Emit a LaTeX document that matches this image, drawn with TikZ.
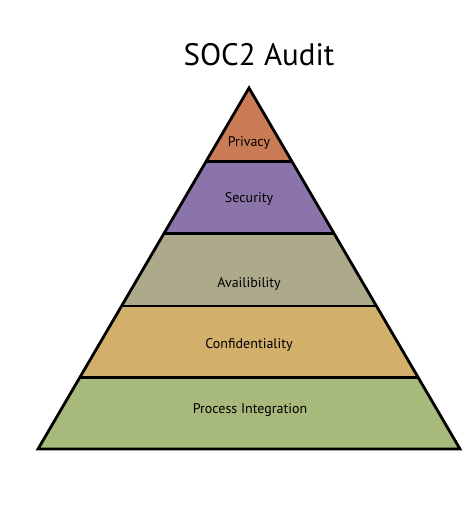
\documentclass[tikz,border=0pt]{standalone}
\usepackage{fontspec}
\setmainfont{PT Sans}
\usetikzlibrary{calc}
\definecolor{privacyc}{HTML}{C97B55}
\definecolor{securityc}{HTML}{8B74A9}
\definecolor{availc}{HTML}{ADA98B}
\definecolor{confidc}{HTML}{D2AF6B}
\definecolor{processc}{HTML}{A7B97B}
\begin{document}
\begin{tikzpicture}[
        x=1pt, y=-1pt,
        layer/.style={draw=black, line width=2.8pt, line join=miter},
        lbl/.style={font=\fontsize{14}{16}\selectfont, text=black},
        title/.style={font=\fontsize{31}{36}\selectfont},
    ]
    \useasboundingbox[fill=white] (0,0) rectangle (474,505);
    \node[title](head) at (259,55) {SOC2 Audit};
    \coordinate (apex) at (249,88);
    \coordinate (bl) at (38,449);
    \coordinate (br) at (460,449);
    % corners of the layers
    \foreach \i/\t in {1/0.204,2/0.402,3/0.604,4/0.803}{
        \coordinate (l\i) at ($(apex)!\t!(bl)$);
        \coordinate (r\i) at ($(apex)!\t!(br)$);
    }
    \fill[privacyc] (apex) -- (l1) -- (r1) -- cycle;
    \fill[securityc] (l1) -- (l2) -- (r2) -- (r1) -- cycle;
    \fill[availc] (l2) -- (l3) -- (r3) -- (r2) -- cycle;
    \fill[confidc] (l3) -- (l4) -- (r4) -- (r3) -- cycle;
    \fill[processc] (l4) -- (bl) -- (br) -- (r4) -- cycle;
    \draw[layer] (apex) -- (bl) -- (br) -- cycle;
    \foreach \i in {1,...,4}{
        \draw[layer] (l\i) -- (r\i);
    }
    \node[lbl](privacy) at (249,143) {Privacy};
    \node[lbl](security) at (249,199) {Security};
    \node[lbl](avail) at (249,284) {Availibility};
    \node[lbl](confid) at (249,345) {Confidentiality};
    \node[lbl](process) at (250,410) {Process Integration};
\end{tikzpicture}
\end{document}
